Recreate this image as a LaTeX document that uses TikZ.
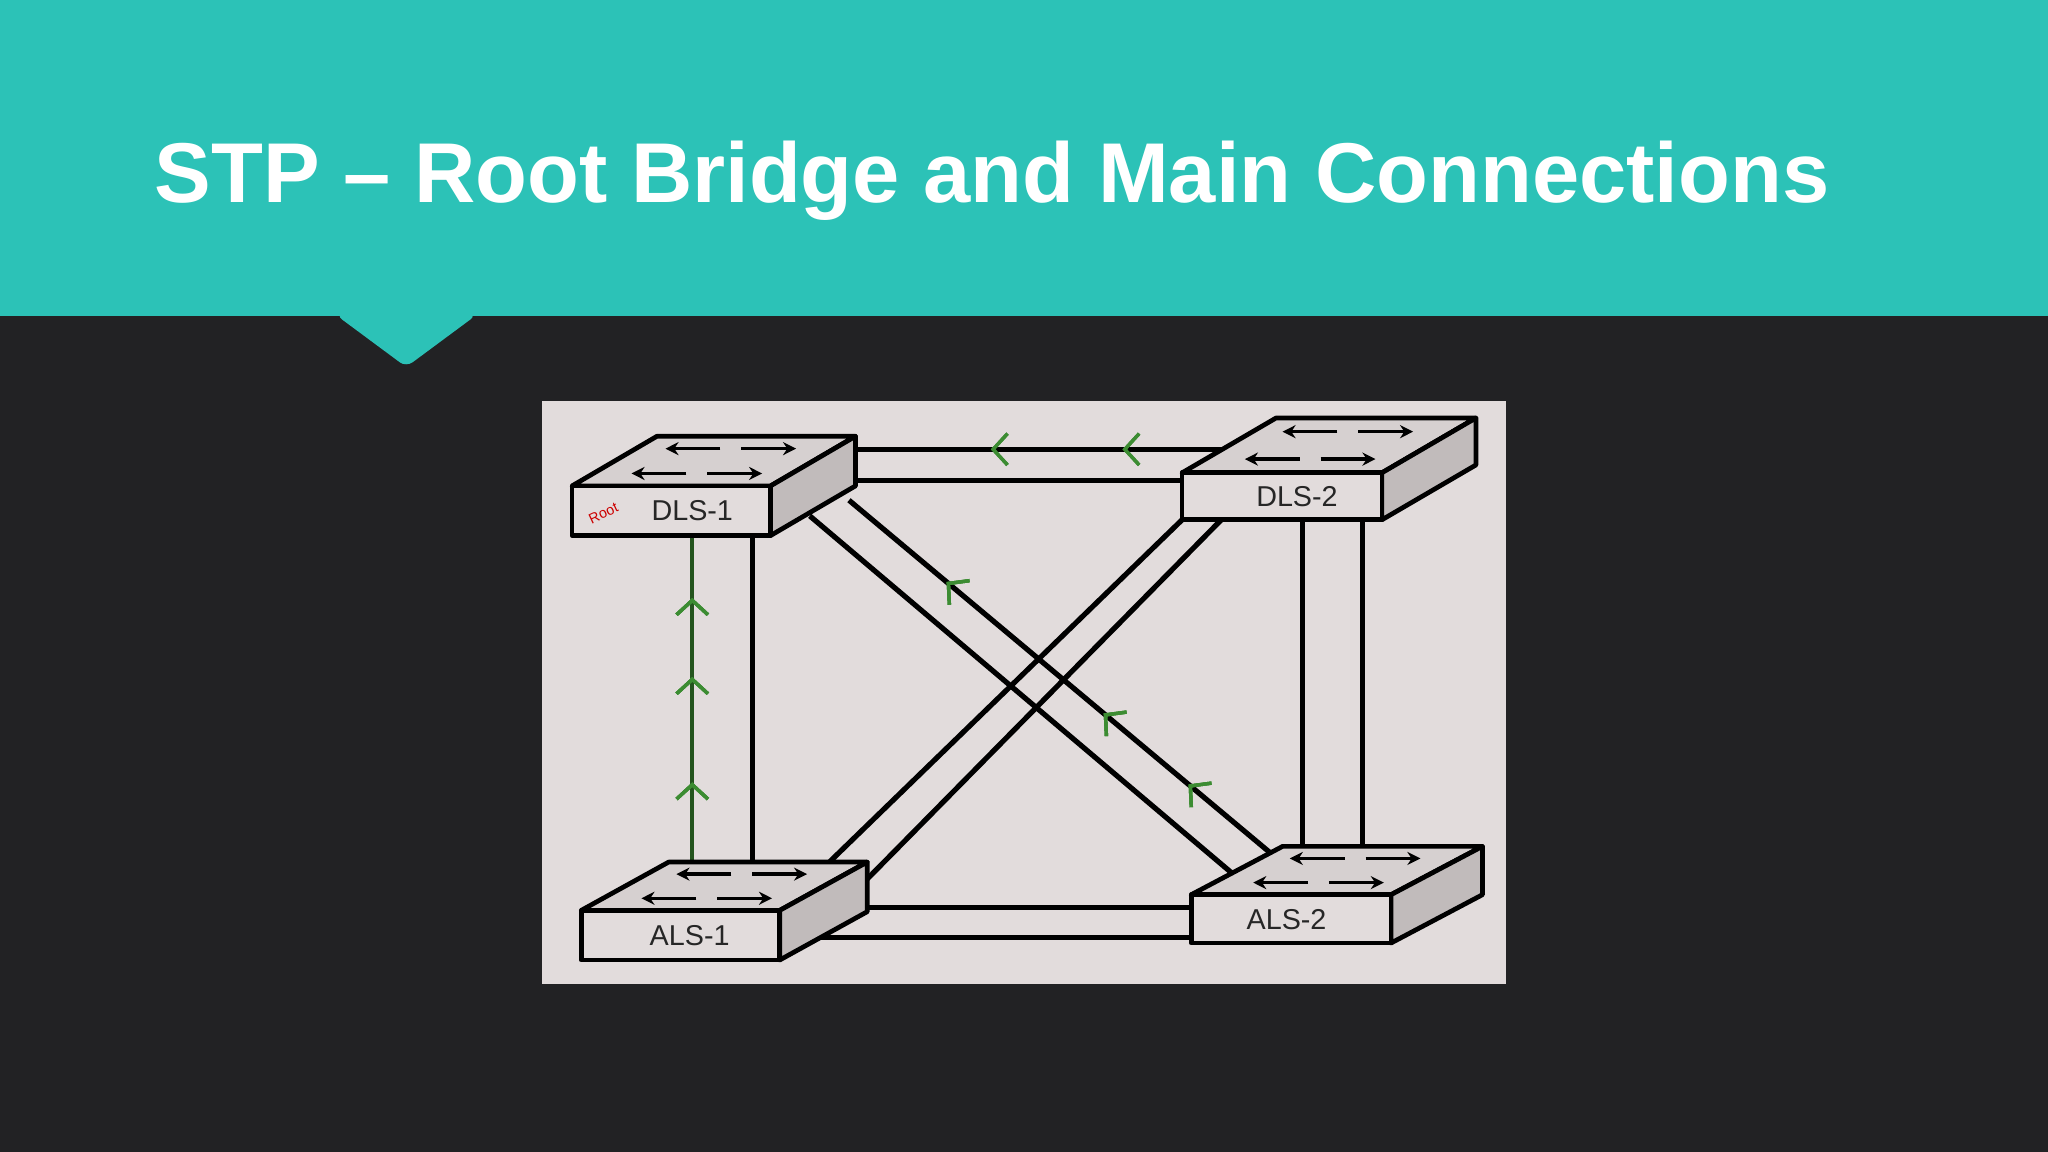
\documentclass[tikz,border=0pt]{standalone}
\usepackage{fontspec}
\setmainfont{Liberation Sans}
\usetikzlibrary{arrows.meta,decorations.markings}
\definecolor{teal1}{RGB}{44,194,183}
\definecolor{darkbg}{RGB}{34,34,36}
\definecolor{paper}{RGB}{226,220,220}
\definecolor{topface}{RGB}{214,208,208}
\definecolor{arrgreen}{RGB}{60,140,50}
\tikzset{
  link/.style={line width=4pt,black},
  boxline/.style={line width=3.6pt,black,line join=round},
  toparrow/.style={line width=2.6pt,-{Stealth[length=10pt,width=10pt]}},
  label/.style={font=\fontsize{22}{24}\selectfont,text=black!85},
  gmark/.style={postaction={decorate},decoration={markings,
     mark=at position #1 with {\arrow[arrgreen,line width=2.6pt]{Straight Barb[length=11pt,width=24pt]}}}}
}
\newcommand\switchbox[8]{%
  \coordinate (#7) at (#1+#3/2,#2+#4/2);
  \draw[boxline,fill=topface] (#1,#2) -- ++(#5,#6) -- ++(#3,0) -- ++(-#5,-#6) -- cycle;
  \draw[boxline,fill=topface!90!black] (#1+#3,#2) -- ++(#5,#6) -- ++(0,#4) -- ++(-#5,-#6) -- cycle;
  \draw[boxline,fill=paper] (#1,#2) rectangle ++(#3,#4);
  \pgfmathsetmacro\cx{#1+#3/2+#5/2}\pgfmathsetmacro\cy{#2+#6/2}
  \pgfmathsetmacro\rax{\cx+#5*0.2}\pgfmathsetmacro\ray{\cy+#6*0.25}
  \pgfmathsetmacro\rbx{\cx-#5*0.2}\pgfmathsetmacro\rby{\cy-#6*0.25}
  \draw[toparrow] (\rax-8,\ray) -- (\rax-50,\ray);
  \draw[toparrow] (\rax+8,\ray) -- (\rax+50,\ray);
  \draw[toparrow] (\rbx-8,\rby) -- (\rbx-50,\rby);
  \draw[toparrow] (\rbx+8,\rby) -- (\rbx+50,\rby);
}
\begin{document}
\begin{tikzpicture}[x=1pt,y=-1pt]
\useasboundingbox (0,0) rectangle (1568,882);
\fill[darkbg] (0,0) rectangle (1568,882);
\fill[teal1] (0,0) rectangle (1568,242);
\fill[teal1,rounded corners=6pt] (257,241) -- (311,281) -- (365,241) -- cycle;
\node[anchor=base west,text=white,font=\bfseries\fontsize{65}{70}\selectfont] (title) at (115,155)
  {STP – Root Bridge and Main Connections};
\fill[paper] (415,307) rectangle (1153,753);
\coordinate (t1a) at (935,344); \coordinate (t1b) at (655,344);
\coordinate (t2a) at (905,368); \coordinate (t2b) at (655,368);
\coordinate (l1a) at (530,662); \coordinate (l1b) at (530,410);
\coordinate (l2a) at (576,660); \coordinate (l2b) at (576,410);
\coordinate (r1a) at (997,650); \coordinate (r1b) at (997,398);
\coordinate (r2a) at (1043,650); \coordinate (r2b) at (1043,398);
\coordinate (b1a) at (662,695); \coordinate (b1b) at (912,695);
\coordinate (b2a) at (620,718); \coordinate (b2b) at (912,718);
\coordinate (d1a) at (945,670); \coordinate (d1b) at (620,395);
\coordinate (d2a) at (975,655); \coordinate (d2b) at (650,383);
\coordinate (e1a) at (905,398); \coordinate (e1b) at (635,660);
\coordinate (e2a) at (935,398); \coordinate (e2b) at (662,675);
\draw[link] (t2a) -- (t2b);
\draw[link,gmark=0.27,gmark=0.63] (t1a) -- (t1b);
\draw[line width=3.4pt,arrgreen!60!black,gmark=0.25,gmark=0.57,gmark=0.81] (l1a) -- (l1b);
\draw[link] (l2a) -- (l2b);
\draw[link] (r1a) -- (r1b);
\draw[link] (r2a) -- (r2b);
\draw[link] (b1a) -- (b1b);
\draw[link] (b2a) -- (b2b);
\draw[link] (e1a) -- (e1b);
\draw[link] (e2a) -- (e2b);
\draw[link] (d1a) -- (d1b);
\draw[link,gmark=0.2,gmark=0.4,gmark=0.77] (d2a) -- (d2b);
\switchbox{438}{372}{152}{38}{65}{-38}{dls1}{DLS-1}
\switchbox{905}{362}{153}{36}{72}{-42}{dls2}{DLS-2}
\switchbox{445}{697}{152}{38}{67}{-37}{als1}{ALS-1}
\switchbox{912}{685}{153}{37}{70}{-37}{als2}{ALS-2}
\node[label] (dls1-lbl) at (530,391) {DLS-1};
\node[label] (dls2-lbl) at (993,380) {DLS-2};
\node[label] (als1-lbl) at (528,716) {ALS-1};
\node[label] (als2-lbl) at (985,704) {ALS-2};
\node[text=red!80!black,font=\fontsize{11}{11}\selectfont,rotate=25,inner sep=0pt] (root) at (462,393) {Root};
\end{tikzpicture}
\end{document}
